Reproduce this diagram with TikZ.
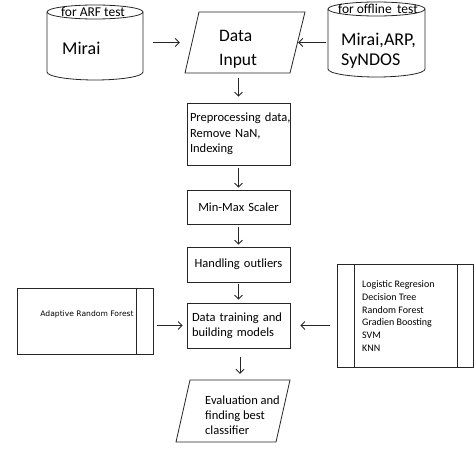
\documentclass[tikz,border=0pt]{standalone}
\usepackage{fontspec}
\setmainfont{Carlito}
\newfontfamily\dejavu{DejaVu Sans}
\usetikzlibrary{arrows.meta}
\begin{document}
\begin{tikzpicture}[x=1pt,y=-1pt,
  shp/.style={draw=black!85, line width=0.8pt},
  conn/.style={-{Straight Barb[length=4pt,width=8pt]}, draw=black!85, line width=0.8pt},
  lbl/.style={inner sep=0pt, anchor=west, align=left},
  hid/.style={inner sep=0pt, draw=none},
  box/.style={shp, minimum width=103pt, inner xsep=3pt, inner ysep=0pt, text width=97pt, align=left,
              font=\fontsize{12.5}{15.5}\selectfont},
  ]
\useasboundingbox (0,0) rectangle (474,463);
% ---------------- left cylinder
\node[hid, minimum width=96pt, minimum height=70pt] (arfdb) at (95,42.5) {};
\draw[shp] (47,12) -- (47,72) arc[start angle=180,end angle=0,x radius=48,y radius=8] -- (143,12);
\draw[shp] (95,12) ellipse [x radius=48, y radius=7];
\node[inner sep=0pt, font=\fontsize{13.5}{15}\selectfont] (arfcap) at (93,12) {for ARF test};
\node[lbl, font=\fontsize{18}{20}\selectfont] (arfname) at (62,48) {Mirai};
% ---------------- right cylinder
\node[hid, minimum width=97pt, minimum height=70pt] (offdb) at (376.5,42.5) {};
\draw[shp] (328,9) -- (328,69) arc[start angle=180,end angle=0,x radius=48.5,y radius=8] -- (425,9);
\draw[shp] (376.5,9) ellipse [x radius=48.5, y radius=7];
\node[inner sep=0pt, font=\fontsize{13.5}{15}\selectfont] (offcap) at (378,9) {for offline\, test};
\node[lbl, font=\fontsize{18}{20}\selectfont] (offname) at (341,51) {Mirai,ARP,\\SyNDOS};
% ---------------- data input
\node[hid, minimum width=106pt, minimum height=61pt] (din) at (245,42.5) {};
\draw[shp] (199,12) -- (305,12) -- (290,73) -- (185,73) -- cycle;
\node[lbl, font=\fontsize{17.5}{24}\selectfont] (dintxt) at (219,49) {Data\\Input};
% ---------------- process boxes
\node[box, minimum height=62pt] (pre) at (238.5,134) {\mbox{Preprocessing data,}\\Remove NaN,\\Indexing};
\node[box, minimum height=34pt, align=center] (mm) at (238.5,207) {Min-Max Scaler};
\node[box, minimum height=35pt, align=center] (ho) at (238.5,264.5) {Handling outliers};
\node[box, minimum height=45pt, inner xsep=5pt, text width=93pt] (tr) at (238.5,325.5) {Data training and\\building models};
% ---------------- evaluation
\node[hid, minimum width=114pt, minimum height=62pt] (ev) at (233,411) {};
\draw[shp] (190,380) -- (290,380) -- (276,442) -- (176,442) -- cycle;
\node[lbl, font=\fontsize{12.5}{15}\selectfont] (evtxt) at (205,415) {Evaluation and\\finding best\\classifier};
% ---------------- ARF box
\node[shp, minimum width=136pt, minimum height=66pt, inner sep=0pt] (arf) at (85,321) {};
\draw[shp] ([xshift=-17pt]arf.north east) -- ([xshift=-17pt]arf.south east);
\node[inner sep=0pt, font=\dejavu\fontsize{7.6}{9}\selectfont] (arftxt) at (87,314) {Adaptive Random Forest};
% ---------------- classifier list box
\node[shp, minimum width=136pt, minimum height=103pt, inner sep=0pt] (lst) at (405,315.5) {};
\draw[shp] ([xshift=18pt]lst.north west) -- ([xshift=18pt]lst.south west);
\draw[shp] ([xshift=-16pt]lst.north east) -- ([xshift=-16pt]lst.south east);
\node[lbl, font=\fontsize{10}{12.7}\selectfont] (lsttxt) at (362,316) {Logistic Regresion\\Decision Tree\\Random Forest\\Gradien Boosting\\SVM\\KNN};
% ---------------- connectors
\draw[conn, shorten <=10pt, shorten >=12pt] (arfdb.east) -- (din.west);
\draw[conn, shorten <=2pt] (offdb.west) -- (din.east);
\draw[conn, shorten <=5pt, shorten >=6pt] (pre.north |- din.south) -- (pre.north);
\draw[conn, shorten <=3pt, shorten >=2pt] (pre.south) -- (mm.north);
\draw[conn, shorten <=3pt, shorten >=2pt] (mm.south) -- (ho.north);
\draw[conn, shorten <=2pt, shorten >=3pt] (ho.south) -- (tr.north);
\draw[conn, shorten <=9pt, shorten >=6pt] ([xshift=1.5pt]tr.south) -- ([xshift=1.5pt]tr.south |- ev.north);
\draw[conn, shorten <=4pt, shorten >=4pt] (arf.east |- tr.west) -- (tr.west);
\draw[conn, shorten <=7pt, shorten >=10pt] (lst.west |- tr.east) -- (tr.east);
\end{tikzpicture}
\end{document}
